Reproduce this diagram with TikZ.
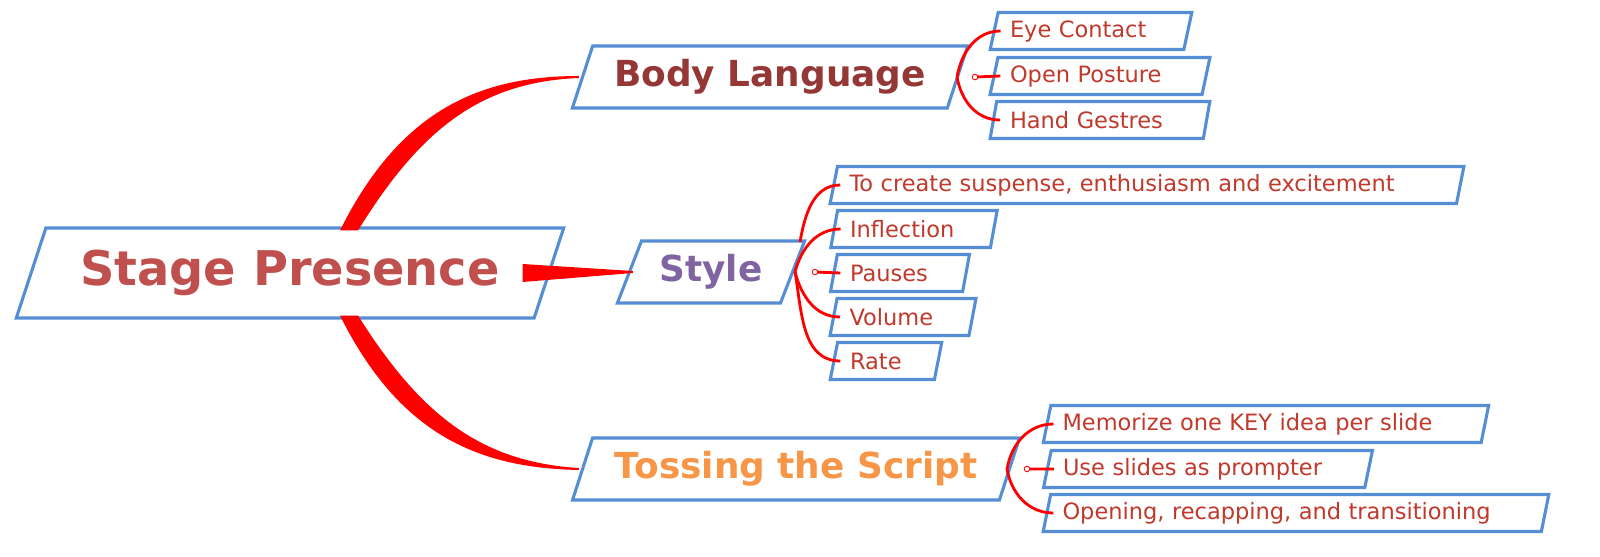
\documentclass[tikz,border=0pt]{standalone}
\usepackage{fontspec}
\setmainfont{DejaVu Sans}
\usetikzlibrary{shapes.geometric, positioning, calc}
\definecolor{frame}{RGB}{85,142,213}
\definecolor{link}{RGB}{255,0,0}
\definecolor{leaftext}{RGB}{192,57,43}
\definecolor{maintext}{RGB}{192,80,77}
\definecolor{bodytext}{RGB}{149,55,53}
\definecolor{styletext}{RGB}{128,100,162}
\definecolor{tosstext}{RGB}{247,150,70}
\tikzset{
  para/.style={trapezium, draw=frame, line width=2.2pt, fill=white,
    trapezium stretches=true, trapezium left angle=#1, trapezium right angle=180-#1,
    inner sep=0pt},
  topic/.style={para=63, font=\bfseries\fontsize{25.5}{28}\selectfont},
  leaf/.style={para=72, text=leaftext, font=\fontsize{16}{18}\selectfont,
    minimum width=#1*0.025cm, text width=(#1-40)*0.025cm, align=left, minimum height=37*0.025cm},
  branch/.style={draw=link, line width=2pt},
  joint/.style={circle, draw=link, fill=white, line width=0.6pt, inner sep=0pt, minimum size=4pt},
}
\begin{document}
\begin{tikzpicture}[x=0.025cm, y=-0.025cm]
  \useasboundingbox (0,0) rectangle (1600,557);

  % Main topics
  \node [para=61, minimum width=550*0.025cm, minimum height=90*0.025cm, text=maintext,
    font=\bfseries\fontsize{34}{38}\selectfont] (stage) at (290,273) {Stage Presence};
  \node [topic, minimum width=396*0.025cm, minimum height=62*0.025cm, text=bodytext] (body) at (770,77) {Body Language};
  \node [topic, minimum width=188*0.025cm, minimum height=62*0.025cm, text=styletext] (style) at (711,272) {Style};
  \node [topic, minimum width=448*0.025cm, minimum height=62*0.025cm, text=tosstext] (toss) at (796,469) {Tossing the Script};

  % Tapered branches from the centre
  \fill [link] ($(stage.north)+(50,4)$) .. controls (400,110) and (480,76) .. ($(body.west)+(-2,-1)$)
    -- ($(body.west)+(-2,1)$) .. controls (480,82) and (420,130) .. ($(stage.north)+(68,4)$) -- cycle;
  \fill [link] ($(stage.south)+(50,-4)$) .. controls (400,436) and (480,468) .. ($(toss.west)+(-2,1)$)
    -- ($(toss.west)+(-2,-1)$) .. controls (480,462) and (420,414) .. ($(stage.south)+(68,-4)$) -- cycle;
  \fill [link] ($(stage.east)+(-28,-9)$) -- ($(style.west)+(5,-1)$) -- ($(style.west)+(5,1)$)
    -- ($(stage.east)+(-28,9)$) -- cycle;

  \node [leaf=202] (eye) at (1091,31) {Eye Contact};
  \node [leaf=220] (posture) at (1100,76) {Open Posture};
  \node [leaf=220] (hand) at (1100,120) {Hand Gestres};

  \node [leaf=635] (suspense) at (1147,185) {To create suspense, enthusiasm and excitement};
  \node [leaf=168] (inflect) at (914,229) {Inflection};
  \node [leaf=140] (pauses) at (900,273) {Pauses};
  \node [leaf=147] (volume) at (903,317) {Volume};
  \node [leaf=112] (rate) at (886,361) {Rate};

  \node [leaf=447] (memo) at (1266,424) {Memorize one KEY idea per slide};
  \node [leaf=330] (prompt) at (1208,469) {Use slides as prompter};
  \node [leaf=507] (opening) at (1296,513) {Opening, recapping, and transitioning};

  % Sub-branches
  \coordinate (bj) at (975,77);
  \draw [branch] (bj) ++(-18,0) to[out=80, in=180] ($(eye.west)+(8,0)$);
  \draw [branch] (bj) -- ($(posture.west)+(8,0)$);
  \draw [branch] (bj) ++(-18,0) to[out=-80, in=180] ($(hand.west)+(8,0)$);
  \node [joint] at (bj) {};

  \coordinate (sj) at (815,272);
  \draw [branch] ($(sj)+(-15,-30)$) to[out=80, in=180] ($(suspense.west)+(8,0)$);
  \draw [branch] ($(sj)+(-20,0)$) to[out=75, in=180] ($(inflect.west)+(8,0)$);
  \draw [branch] (sj) -- ($(pauses.west)+(8,0)$);
  \draw [branch] ($(sj)+(-20,0)$) to[out=-75, in=180] ($(volume.west)+(8,0)$);
  \draw [branch] ($(sj)+(-20,0)$) to[out=-80, in=180] ($(rate.west)+(8,0)$);
  \node [joint] at (sj) {};

  \coordinate (tj) at (1027,469);
  \draw [branch] (tj) ++(-20,0) to[out=80, in=180] ($(memo.west)+(8,0)$);
  \draw [branch] (tj) -- ($(prompt.west)+(8,0)$);
  \draw [branch] (tj) ++(-20,0) to[out=-80, in=180] ($(opening.west)+(8,0)$);
  \node [joint] at (tj) {};
\end{tikzpicture}
\end{document}
